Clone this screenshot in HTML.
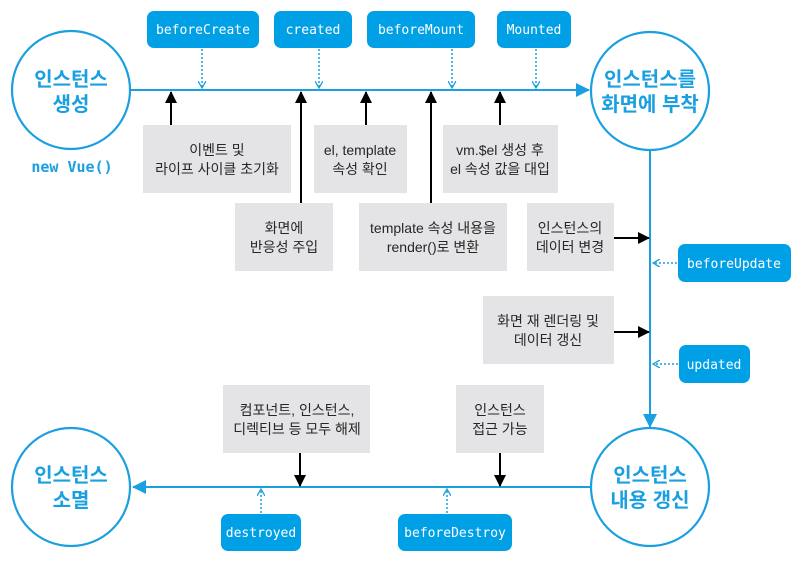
<!DOCTYPE html>
<html><head><meta charset="utf-8"><style>
body{margin:0;background:#fff;width:800px;height:565px;overflow:hidden}
svg{display:block}
.k{font-family:"Liberation Sans","Noto Sans CJK KR",sans-serif;font-size:14px;fill:#262626;text-anchor:middle}
.c{font-family:"Liberation Sans","Noto Sans CJK KR",sans-serif;font-size:20px;font-weight:bold;fill:#1a9fe0;text-anchor:middle}
.m{font-family:"DejaVu Sans Mono","Liberation Mono",monospace;font-size:13px;fill:#fff;text-anchor:middle}
</style></head><body>
<svg width="800" height="565" viewBox="0 0 800 565">
<defs>
<marker id="kb" markerWidth="12" markerHeight="12" refX="11" refY="6" orient="auto" markerUnits="userSpaceOnUse"><path d="M0,0 L12,6 L0,12z" fill="#000"/></marker>
<marker id="bl" markerWidth="14" markerHeight="14" refX="13" refY="7" orient="auto" markerUnits="userSpaceOnUse"><path d="M0,0 L14,7 L0,14z" fill="#1a9fe0"/></marker>
<marker id="dv" markerWidth="8" markerHeight="8" refX="7" refY="4" orient="auto" markerUnits="userSpaceOnUse"><path d="M0,0 L7,4 L0,8" fill="none" stroke="#1a9fe0" stroke-width="1.3"/></marker>
</defs>
<line x1="130" y1="90" x2="589" y2="90" stroke="#1a9fe0" stroke-width="2" marker-end="url(#bl)"/>
<line x1="650" y1="150" x2="650" y2="427" stroke="#1a9fe0" stroke-width="2" marker-end="url(#bl)"/>
<line x1="591" y1="487" x2="133" y2="487" stroke="#1a9fe0" stroke-width="2" marker-end="url(#bl)"/>
<g fill="#fff" stroke="#1a9fe0" stroke-width="2.2">
<circle cx="71" cy="90" r="59"/><circle cx="650" cy="91" r="59"/>
<circle cx="650" cy="487" r="59"/><circle cx="71" cy="487" r="59"/>
</g>
<text class="c" x="71" y="86">인스턴스</text><text class="c" x="71" y="111">생성</text>
<text class="c" x="650" y="86">인스턴스를</text><text class="c" x="650" y="111">화면에 부착</text>
<text class="c" x="650" y="482">인스턴스</text><text class="c" x="650" y="507">내용 갱신</text>
<text class="c" x="71" y="482">인스턴스</text><text class="c" x="71" y="507">소멸</text>
<text x="72" y="172" style="font-family:'DejaVu Sans Mono',monospace;font-size:15px;fill:#1a9fe0;text-anchor:middle;font-weight:bold">new Vue()</text>
<g fill="#00a0e6">
<rect x="147" y="11" width="112" height="37" rx="7"/><rect x="274" y="11" width="78" height="37" rx="7"/>
<rect x="367" y="11" width="108" height="37" rx="7"/><rect x="497" y="11" width="74" height="37" rx="7"/>
<rect x="678" y="244" width="113" height="38" rx="7"/><rect x="679" y="345" width="71" height="38" rx="7"/>
<rect x="221" y="514" width="80" height="37" rx="7"/><rect x="398" y="514" width="114" height="37" rx="7"/>
</g>
<text class="m" x="203" y="34">beforeCreate</text><text class="m" x="313" y="34">created</text>
<text class="m" x="421" y="34">beforeMount</text><text class="m" x="534" y="34">Mounted</text>
<text class="m" x="734" y="268">beforeUpdate</text><text class="m" x="714" y="369">updated</text>
<text class="m" x="261" y="537">destroyed</text><text class="m" x="455" y="537">beforeDestroy</text>
<g stroke="#1a9fe0" stroke-width="1.5" stroke-dasharray="2,2" fill="none">
<line x1="202" y1="49" x2="202" y2="88" marker-end="url(#dv)"/>
<line x1="319" y1="49" x2="319" y2="88" marker-end="url(#dv)"/>
<line x1="452" y1="49" x2="452" y2="88" marker-end="url(#dv)"/>
<line x1="536" y1="49" x2="536" y2="88" marker-end="url(#dv)"/>
<line x1="677" y1="263" x2="653" y2="263" marker-end="url(#dv)"/>
<line x1="678" y1="364" x2="653" y2="364" marker-end="url(#dv)"/>
<line x1="261" y1="513" x2="261" y2="489" marker-end="url(#dv)"/>
<line x1="447" y1="513" x2="447" y2="489" marker-end="url(#dv)"/>
</g>
<g fill="#e4e4e6">
<rect x="143" y="125" width="148" height="68"/><rect x="314" y="125" width="93" height="68"/>
<rect x="443" y="125" width="115" height="68"/><rect x="235" y="203" width="98" height="68"/>
<rect x="359" y="203" width="148" height="68"/><rect x="527" y="203" width="87" height="68"/>
<rect x="483" y="296" width="131" height="68"/><rect x="223" y="385" width="147" height="68"/>
<rect x="456" y="385" width="88" height="68"/>
</g>
<text class="k" x="217" y="155">이벤트 및</text><text class="k" x="217" y="174">라이프 사이클 초기화</text>
<text class="k" x="360" y="155">el, template</text><text class="k" x="360" y="174">속성 확인</text>
<text class="k" x="500" y="155">vm.$el 생성 후</text><text class="k" x="500" y="174">el 속성 값을 대입</text>
<text class="k" x="284" y="233">화면에</text><text class="k" x="284" y="252">반응성 주입</text>
<text class="k" x="433" y="233">template 속성 내용을</text><text class="k" x="433" y="252">render()로 변환</text>
<text class="k" x="570" y="233">인스턴스의</text><text class="k" x="570" y="252">데이터 변경</text>
<text class="k" x="548" y="326">화면 재 렌더링 및</text><text class="k" x="548" y="345">데이터 갱신</text>
<text class="k" x="297" y="415">컴포넌트, 인스턴스,</text><text class="k" x="297" y="434">디렉티브 등 모두 해제</text>
<text class="k" x="500" y="415">인스턴스</text><text class="k" x="500" y="434">접근 가능</text>
<g stroke="#000" stroke-width="2" fill="none">
<line x1="171" y1="125" x2="171" y2="92" marker-end="url(#kb)"/>
<line x1="301" y1="203" x2="301" y2="92" marker-end="url(#kb)"/>
<line x1="366" y1="125" x2="366" y2="92" marker-end="url(#kb)"/>
<line x1="431" y1="203" x2="431" y2="92" marker-end="url(#kb)"/>
<line x1="500" y1="125" x2="500" y2="92" marker-end="url(#kb)"/>
<line x1="614" y1="238" x2="649" y2="238" marker-end="url(#kb)"/>
<line x1="614" y1="332" x2="649" y2="332" marker-end="url(#kb)"/>
<line x1="300" y1="453" x2="300" y2="486" marker-end="url(#kb)"/>
<line x1="500" y1="453" x2="500" y2="486" marker-end="url(#kb)"/>
</g>
</svg>
</body></html>
